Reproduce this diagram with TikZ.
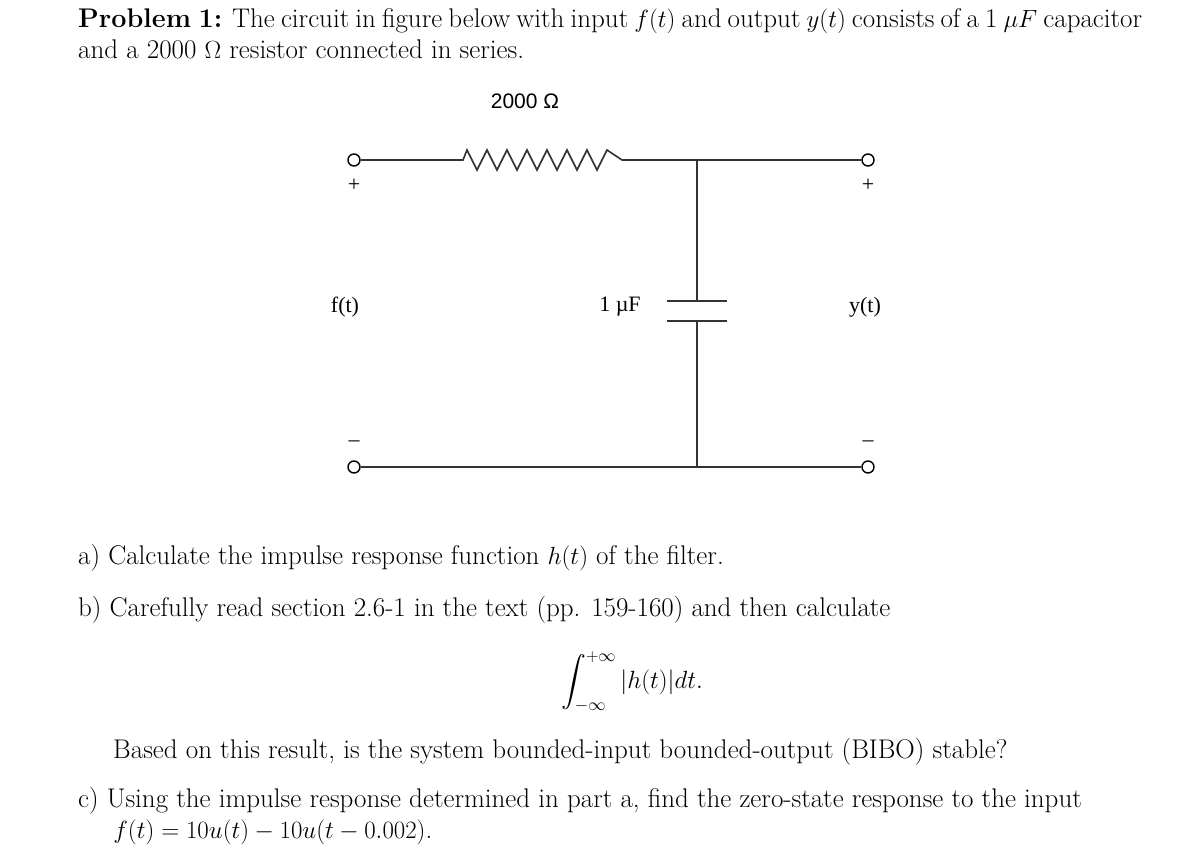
\documentclass[tikz,border=0pt]{standalone}
\usepackage{amsmath}
\usepackage{exscale}
\usepackage{fontspec}
\usetikzlibrary{calc}
\newfontfamily\arialf{Liberation Sans}
\newfontfamily\timesf{Liberation Serif}
\begin{document}
\begin{tikzpicture}[x=1pt,y=-1pt,
  txt/.style={anchor=west,inner sep=0pt,font=\fontsize{27}{31}\selectfont},
  wire/.style={line width=1.6pt,black!80},
  term/.style={circle,draw,line width=1.4pt,minimum size=12pt,inner sep=0pt,fill=white},
  lab/.style={font=\timesf\fontsize{22}{24}\selectfont,inner sep=0pt}]
\useasboundingbox (0,0) rectangle (1179,865);
\node[txt,anchor=north west,text width=1064pt,align=justify] (p1) at (78,8) {\textbf{Problem 1:} The circuit in figure below with input $f(t)$ and output $y(t)$ consists of a 1 $\mu F$ capacitor and a 2000 $\Omega$ resistor connected in series.};
% circuit
\node[term] (a) at (354,160) {};
\node[term] (b) at (868,160) {};
\node[term] (c) at (354,467) {};
\node[term] (d) at (868,467) {};
\coordinate (r1) at (463,160);
\coordinate (r2) at (622,160);
\coordinate (j1) at (697,160);
\coordinate (j2) at (697,467);
\coordinate (c1) at (697,301);
\coordinate (c2) at (697,321);
\draw[wire] (a) -- (r1) -- ++(4,-10) -- ++(10,20) -- ++(10,-20) -- ++(10,20) -- ++(10,-20) -- ++(10,20) -- ++(10,-20) -- ++(10,20) -- ++(10,-20) -- ++(10,20) -- ++(10,-20) -- ++(10,20) -- ++(10,-20) -- ++(10,20) -- ++(10,-20) -- (r2) -- (j1) -- (b);
\draw[wire] (c) -- (j2) -- (d);
\draw[wire] (j1) -- (c1);
\draw[wire] (c2) -- (j2);
\draw[wire] ($(c1)+(-30,0)$) -- ($(c1)+(30,0)$);
\draw[wire] ($(c2)+(-30,0)$) -- ($(c2)+(30,0)$);
\node[font=\arialf\fontsize{21}{24}\selectfont] (rl) at (525,101) {2000 Ω};
\node[lab] (pl) at (354,185) {+};
\node[lab] (pr) at (868,185) {+};
\node[lab] (ml) at (354,444) {\textendash};
\node[lab] (mr) at (868,444) {\textendash};
\node[lab] (f) at (345,307) {f(t)};
\node[lab] (cl) at (620,307) {1 µF};
\node[lab] (y) at (865,307) {y(t)};
% questions
\node[txt] (qa) at (78,558) {a) Calculate the impulse response function $h(t)$ of the filter.};
\node[txt] (qb) at (78,610) {b) Carefully read section 2.6-1 in the text (pp. 159-160) and then calculate};
\node[txt,anchor=center] (int) at (632,682) {$\displaystyle\int_{-\infty}^{+\infty}|h(t)|dt.$};
\node[txt] (bb) at (113,752) {Based on this result, is the system bounded-input bounded-output (BIBO) stable?};
\node[txt,anchor=north west,text width=1064pt,align=justify] (qc) at (78,787) {c)\hspace{0.3em}Using the impulse response determined in part a, find the zero-state response to the input\\\hspace*{1.3em}$f(t)=10u(t)-10u(t-0.002)$.};
\end{tikzpicture}
\end{document}
